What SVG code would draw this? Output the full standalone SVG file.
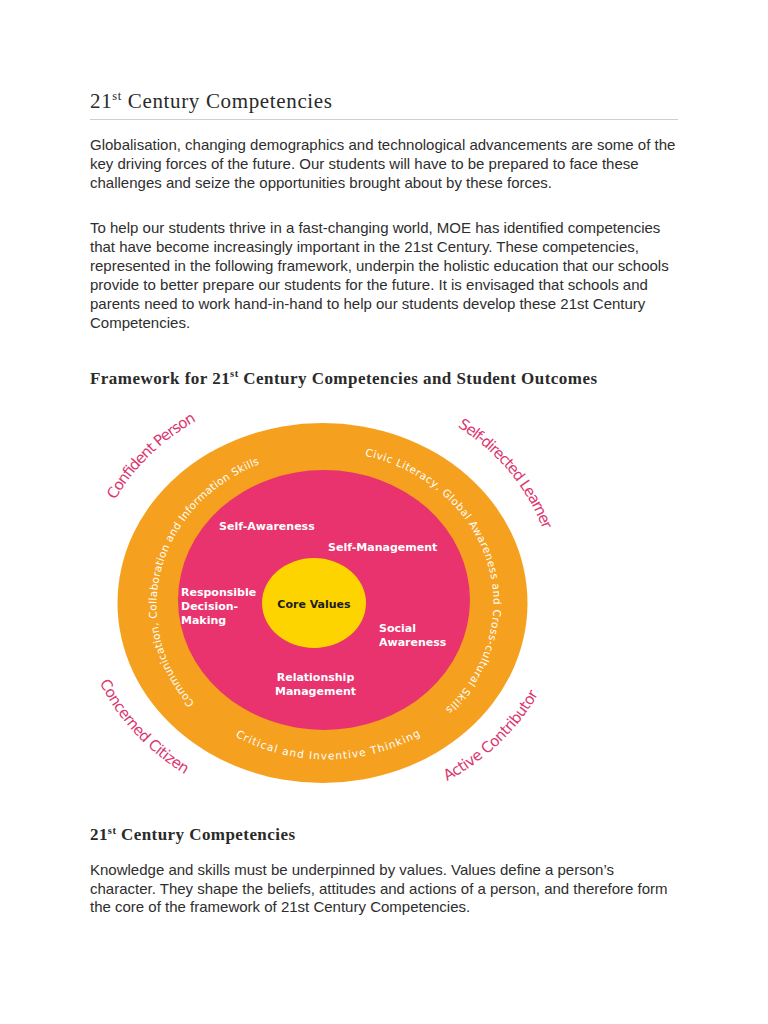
<svg xmlns="http://www.w3.org/2000/svg" width="768" height="1024" viewBox="0 0 768 1024">
<style>
.h{font-family:"Liberation Serif","DejaVu Serif",serif;fill:#2a2a2a}
.p{font-family:"Liberation Sans",Arial,sans-serif;font-size:15px;fill:#2e2e2e}
.in{font-family:"DejaVu Sans","Liberation Sans",sans-serif;font-weight:bold;font-size:11px;fill:#ffffff}
.ring{font-family:"DejaVu Sans","Liberation Sans",sans-serif;font-size:10.5px;fill:#ffffff}
.out{font-family:"DejaVu Sans","Liberation Sans",sans-serif;font-size:15px;fill:#dc3670}
</style>
<defs>
<path id="pLeft" d="M194.5 703.2 A170.5 154.5 0 0 1 297.4 453.8"/>
<path id="pRight" d="M364.9 455.8 A168.5 151.5 0 0 1 421.6 727.1"/>
<path id="pBottom" d="M235.3 736.3 A175.5 157.5 0 0 0 451.1 713.4"/>
<path id="pConf" d="M115.0 500.0 A233 207 0 0 1 242.3 400.5"/>
<path id="pSelf" d="M457.6 426.6 A233 207 0 0 1 554.1 577.0"/>
<path id="pConc" d="M99.7 682.6 A243 217 0 0 0 238.9 798.9"/>
<path id="pAct" d="M447.1 781.0 A243 217 0 0 0 561.3 632.7"/>
</defs>
<rect width="768" height="1024" fill="#ffffff"/>

<g id="title">
<text class="h" x="90" y="108" font-size="21" textLength="242">21<tspan font-size="12.5" dy="-8">st</tspan><tspan dy="8"> Century Competencies</tspan></text>
<line x1="90" y1="119.5" x2="678" y2="119.5" stroke="#cfcfcf" stroke-width="1"/>
</g>

<g id="intro">
<text class="p" x="90" y="150">Globalisation, changing demographics and technological advancements are some of the</text>
<text class="p" x="90" y="169">key driving forces of the future. Our students will have to be prepared to face these</text>
<text class="p" x="90" y="188">challenges and seize the opportunities brought about by these forces.</text>
<text class="p" x="90" y="233">To help our students thrive in a fast-changing world, MOE has identified competencies</text>
<text class="p" x="90" y="252">that have become increasingly important in the 21st Century. These competencies,</text>
<text class="p" x="90" y="271">represented in the following framework, underpin the holistic education that our schools</text>
<text class="p" x="90" y="290">provide to better prepare our students for the future. It is envisaged that schools and</text>
<text class="p" x="90" y="309">parents need to work hand-in-hand to help our students develop these 21st Century</text>
<text class="p" x="90" y="328">Competencies.</text>
</g>

<g id="framework-heading">
<text class="h" x="90" y="384" font-size="17" font-weight="bold" textLength="507">Framework for 21<tspan font-size="10.5" dy="-7">st</tspan><tspan dy="7"> Century Competencies and Student Outcomes</tspan></text>
</g>

<g id="outer-ring">
<ellipse cx="322.5" cy="603" rx="205" ry="180" fill="#f5a11f"/>
<text class="ring"><textPath href="#pLeft" textLength="293">Communication, Collaboration and Information Skills</textPath></text>
<text class="ring"><textPath href="#pRight" textLength="331">Civic Literacy, Global Awareness and Cross-cultural Skills</textPath></text>
<text class="ring"><textPath href="#pBottom" textLength="193">Critical and Inventive Thinking</textPath></text>
</g>

<g id="middle-ring">
<ellipse cx="324" cy="600" rx="146" ry="130" fill="#e8336e"/>
<text class="in" x="219" y="530">Self-Awareness</text>
<text class="in" x="328" y="551">Self-Management</text>
<text class="in" x="181" y="596">Responsible</text>
<text class="in" x="181" y="610">Decision-</text>
<text class="in" x="181" y="624">Making</text>
<text class="in" x="379" y="632">Social</text>
<text class="in" x="379" y="646">Awareness</text>
<text class="in" x="315.5" y="681" text-anchor="middle">Relationship</text>
<text class="in" x="315.5" y="695" text-anchor="middle">Management</text>
</g>

<g id="core">
<ellipse cx="314" cy="603" rx="52" ry="45" fill="#fdd400"/>
<text class="in" x="314" y="608" text-anchor="middle" font-size="12" style="fill:#1c1c1c">Core Values</text>
</g>

<g id="outcomes">
<text class="out"><textPath href="#pConf" textLength="115">Confident Person</textPath></text>
<text class="out"><textPath href="#pSelf" textLength="136">Self-directed Learner</textPath></text>
<text class="out"><textPath href="#pConc" textLength="127">Concerned Citizen</textPath></text>
<text class="out"><textPath href="#pAct" textLength="128">Active Contributor</textPath></text>
</g>

<g id="connectors"></g>

<g id="section2">
<text class="h" x="90" y="840" font-size="17" font-weight="bold" textLength="205">21<tspan font-size="10.5" dy="-6">st</tspan><tspan dy="6"> Century Competencies</tspan></text>
<text class="p" x="90" y="875">Knowledge and skills must be underpinned by values. Values define a person’s</text>
<text class="p" x="90" y="894">character. They shape the beliefs, attitudes and actions of a person, and therefore form</text>
<text class="p" x="90" y="912">the core of the framework of 21st Century Competencies.</text>
</g>
</svg>
